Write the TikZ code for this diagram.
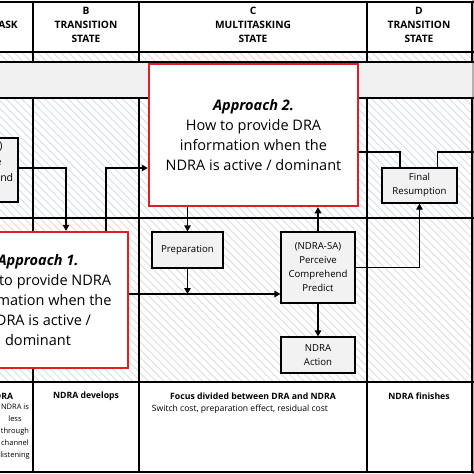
\documentclass[tikz,border=0pt]{standalone}
\usepackage{fontspec}
\setmainfont{Open Sans}
\usetikzlibrary{arrows.meta,patterns.meta}
\definecolor{hb}{RGB}{214,222,232}
\definecolor{hg}{RGB}{222,222,222}
\definecolor{band}{RGB}{240,240,240}
\definecolor{boxfill}{RGB}{242,242,242}
\definecolor{apred}{RGB}{225,30,36}
\tikzset{
  grid/.style={line width=1.6pt, black},
  hatchblue/.style={pattern={Lines[angle=-45,distance=5.5pt,line width=0.9pt]}, pattern color=hb},
  hatchgray/.style={pattern={Lines[angle=-45,distance=5.5pt,line width=0.9pt]}, pattern color=hg},
  hdr/.style={font=\fontsize{10.2}{14}\selectfont\bfseries, align=center, inner sep=0pt},
  btitle/.style={font=\fontsize{8.7}{10}\selectfont\bfseries, align=center, inner sep=0pt},
  btext/.style={font=\fontsize{8.6}{12}\selectfont, align=center, inner sep=0pt},
  atext/.style={font=\fontsize{7.5}{12}\selectfont, align=center, inner sep=0pt},
  smallbox/.style={draw, line width=1.2pt, fill=boxfill, align=center, inner sep=1pt,
     font=\fontsize{9.6}{14}\selectfont},
  apbox/.style={draw=apred, line width=2.5pt, fill=white, align=center, inner sep=1pt,
     font=\fontsize{14.5}{20}\selectfont},
  conn/.style={line width=1.2pt},
  arr/.style={line width=1.2pt, -{Triangle[length=6pt,width=6.5pt]}}
}
\begin{document}
\begin{tikzpicture}[x=1pt,y=-1pt]
\useasboundingbox (0,0) rectangle (474,474);
\clip (0,0) rectangle (474,474);
% backgrounds
\fill[white] (-5,-5) rectangle (480,480);
\path[hatchgray] (-5,52) rectangle (480,62);
\fill[band] (-5,62) rectangle (480,98);
\path[hatchblue] (-5,98) rectangle (480,218);
\path[hatchgray] (-5,218) rectangle (480,382);
\fill[white] (-5,382) rectangle (472,472);
\fill[gray!60] (472,-5) rectangle (480,480);
% grid lines
\foreach \yy in {2,52,62,98,218,382,472} \draw[grid] (-5,\yy) -- (480,\yy);
\foreach \xx in {33,139,367,472} {
  \draw[grid] (\xx,2) -- (\xx,62);
  \draw[grid] (\xx,98) -- (\xx,472);
}
% header
\node[hdr] (hA) at (-14,25) {A\\SINGLE TASK\\STATE};
\node[hdr] (hB) at (86,25) {B\\TRANSITION\\STATE};
\node[hdr] (hC) at (253,25) {C\\MULTITASKING\\STATE};
\node[hdr] (hD) at (419,25) {D\\TRANSITION\\STATE};
% bottom row
\node[btitle] (bA) at (4,396) {DRA};
\node[atext] (bA2) at (15,432) {NDRA is\\less\\through\\channel\\listening};
\node[btitle] (bB) at (86,396) {NDRA develops};
\node[btitle] (bC) at (253,396) {Focus divided between DRA and NDRA};
\node[btext] (bC2) at (240,409) {Switch cost, preparation effect, residual cost};
\node[btitle] (bD) at (419,396) {NDRA finishes};
% boxes
\node[smallbox, font=\fontsize{10.5}{16}\selectfont, minimum width=74pt, minimum height=64pt] (lbox) at (-19,170) {(DRA-SA)\\Perceive\\Comprehend\\Predict};
\node[apbox, minimum width=180pt, minimum height=136pt] (ap1) at (38,300)
  {{\bfseries\itshape Approach 1.}\\How to provide NDRA\\information when the\\NDRA is active /\\dominant};
\node[apbox, minimum width=209pt, minimum height=142pt] (ap2) at (253.5,135)
  {{\bfseries\itshape Approach 2.}\\How to provide DRA\\information when the\\NDRA is active / dominant};
\node[smallbox, minimum width=71pt, minimum height=36pt] (prep) at (187.5,250) {Preparation};
\node[smallbox, minimum width=74pt, minimum height=71pt] (sa) at (318,267.5) {(NDRA-SA)\\Perceive\\Comprehend\\Predict};
\node[smallbox, minimum width=74pt, minimum height=36pt] (act) at (318,355) {NDRA\\Action};
\node[smallbox, minimum width=75pt, minimum height=35pt] (fin) at (419.5,185.5) {Final\\Resumption};
\coordinate (rin) at (480,152);
\coordinate (sain) at ([yshift=-26.5pt]sa.west);
% connectors
\draw[arr] ([yshift=2pt]lbox.east) -| ([xshift=28pt]ap1.north);
\draw[arr] ([xshift=68pt]ap1.north) |- ([yshift=-33pt]ap2.west);
\draw[arr] (prep.north |- ap2.south) -- (prep.north);
\draw[arr] (sain -| ap1.east) -- (sain);
\draw[arr] (prep.south) -- (prep.south |- sain);
\draw[arr] (sa.north) -- (sa.north |- ap2.south);
\draw[arr] (sa.south) -- (act.north);
\draw[arr] (sa.east) -| (fin.south);
\draw[conn] ([yshift=-17pt]ap2.east) -| ([xshift=-19.5pt]fin.north);
\draw[conn] (rin) -| ([xshift=18pt]fin.north);
\end{tikzpicture}
\end{document}
